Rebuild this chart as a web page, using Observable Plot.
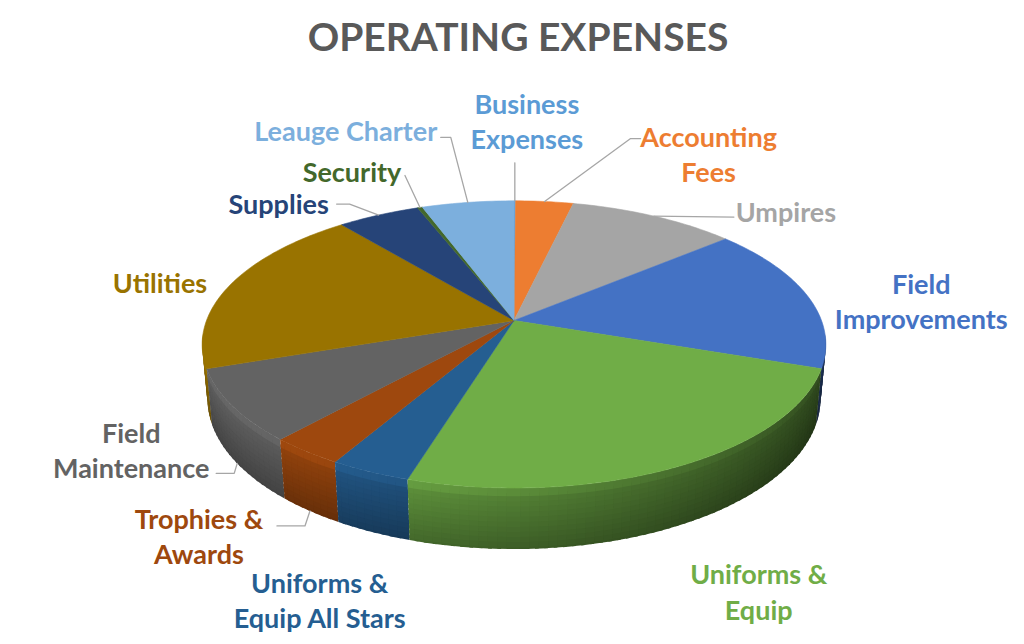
<!DOCTYPE html>
<html><head><meta charset="utf-8">
<script src="https://cdn.jsdelivr.net/npm/d3@7"></script>
<script src="https://cdn.jsdelivr.net/npm/@observablehq/plot@0.6"></script>
<style>
html,body{margin:0;padding:0;background:#fff;width:1024px;height:644px;overflow:hidden}
#title{height:70px;line-height:72px;text-align:center;font-family:Lato,"Open Sans",sans-serif;font-weight:700;font-size:39px;color:#595959;padding-left:12px;box-sizing:border-box;white-space:nowrap}
#chart svg{display:block}
</style></head><body>
<div id="title">OPERATING EXPENSES</div>
<div id="chart"></div>
<script>
// ---- data ----
const categories = ["Business Expenses","Accounting Fees","Umpires","Field Improvements","Uniforms & Equip","Uniforms & Equip All Stars","Trophies & Awards","Field Maintenance","Utilities","Supplies","Security","Leauge Charter"];
const labelText = ["Business\nExpenses","Accounting\nFees","Umpires","Field\nImprovements","Uniforms &\nEquip","Uniforms &\nEquip All Stars","Trophies &\nAwards","Field\nMaintenance","Utilities","Supplies","Security","Leauge Charter"];
const values = [0.1, 3.5, 10.2, 16.5, 24.4, 3.6, 3.3, 8.1, 19.4, 5.0, 0.3, 5.6];
const colors = ["#5B9BD5","#ED7D31","#A5A5A5","#4472C4","#70AD47","#255E91","#9E480E","#636363","#997300","#264478","#43682B","#7CAFDD"];

// ---- layout (label / leader offsets from the slice anchor, px) ----
const labelOffset = [[12,-80.5],[164,-48],[132,-5],[114,4.5],[84,64],[-53,67.5],[-111,24.5],[-106,-14.5],[-71,-2],[-100,-12],[-68,-37],[-122,-73]];
const leaderEnd = [[0,-38,0],[86,-63,10],[80,1,0],null,null,null,[-5,15,-28],[-3,10,-18],null,[-29,-11,-13],[-15,-32,0],[-17,-65,-10]];

const TOP = 70, W = 1024, H = 644 - TOP;
const tilt = 27 * Math.PI / 180;
const P = {cx: 513.5, cy: 320 - TOP, f: 1645, D: 5.35, s: Math.sin(tilt), c: Math.cos(tilt), h: 0.2};
function proj(deg, r, Y) {
  const t = deg * Math.PI / 180;
  const X = r * Math.sin(t), Z = r * Math.cos(t);
  const yc = Y * P.c + Z * P.s, zc = P.D + Z * P.c - Y * P.s;
  return [P.cx + P.f * X / zc, P.cy - P.f * yc / zc];
}
const total = d3.sum(values);
let cum = 0;
const slices = values.map((v, i) => {
  const a0 = cum / total * 360; cum += v; const a1 = cum / total * 360;
  return {i, a0, a1, mid: (a0 + a1) / 2, color: colors[i]};
});
function shade(col, k) {
  const c = d3.rgb(col);
  return d3.rgb(Math.min(255, c.r * k), Math.min(255, c.g * k), Math.min(255, c.b * k)).formatHex();
}

// top faces
const topPts = [];
for (const s of slices) {
  const [x0, y0] = proj(0, 0, 0);
  topPts.push({k: "t" + s.i, x: x0, y: y0, color: s.color});
  const n = Math.max(2, Math.ceil((s.a1 - s.a0) / 1));
  for (let j = 0; j <= n; j++) {
    const [x, y] = proj(s.a0 + (s.a1 - s.a0) * j / n, 1, 0);
    topPts.push({k: "t" + s.i, x, y, color: s.color});
  }
}
// walls (segments overlap slightly so no seams show)
const bands = 12;
const wallSegs = [];
for (const s of slices) {
  const n = Math.max(1, Math.ceil((s.a1 - s.a0) / 1.5));
  for (let j = 0; j < n; j++) {
    const t0 = s.a0 + (s.a1 - s.a0) * j / n, t1 = s.a0 + (s.a1 - s.a0) * (j + 1) / n;
    const tm = (t0 + t1) / 2;
    if (Math.cos(tm * Math.PI / 180) > -0.1) continue;
    const te = j < n - 1 ? t1 + 0.6 : t1;
    const base = 0.36 + 0.56 * Math.pow((1 + Math.cos((tm - 240) * Math.PI / 180)) / 2, 1.5);
    for (let b = 0; b < bands; b++) {
      const y0 = b / bands, y1 = Math.min(1, (b + 1.6) / bands), ym = (b + 0.5) / bands;
      const mult = ym < 0.1 ? 1.12 : 1.05 - 0.32 * ym;
      const col = shade(s.color, base * mult);
      wallSegs.push({k: `w${s.i}_${j}_${b}`, order: Math.cos(tm * Math.PI / 180), b, pts: [
        proj(t0, 1, -P.h * y0), proj(te, 1, -P.h * y0), proj(te, 1, -P.h * y1), proj(t0, 1, -P.h * y1)], color: col});
    }
  }
}
wallSegs.sort((a, b) => (b.order - a.order) || (b.b - a.b));
const wallPts = wallSegs.flatMap(w => w.pts.map(([x, y]) => ({k: w.k, x, y, color: w.color})));

// shadow
const shadowPts = d3.range(0, 361, 3).map(a => { const [x, y] = proj(a, 1.0, -P.h); return {x, y: y + 6}; });
// rim highlight
const rimPts = d3.range(100, 261, 2).map(a => { const [x, y] = proj(a, 0.99, 0); return {x, y: y + 1.5}; });

// anchors, labels, leaders
function anchor(s) {
  const front = Math.cos(s.mid * Math.PI / 180) < -0.21;
  return proj(s.mid, 1, front ? -P.h : 0);
}
const labels = slices.map(s => {
  const [ax, ay] = anchor(s);
  return {x: ax + labelOffset[s.i][0], y: ay + labelOffset[s.i][1], text: labelText[s.i], color: s.color};
});
const leaderPts = [];
slices.forEach(s => {
  const L = leaderEnd[s.i]; if (!L) return;
  const [ax, ay] = anchor(s);
  leaderPts.push({k: s.i, x: ax, y: ay});
  leaderPts.push({k: s.i, x: ax + L[0], y: ay + L[1]});
  if (L[2]) leaderPts.push({k: s.i, x: ax + L[0] + L[2], y: ay + L[1]});
});

const chart = Plot.plot({
  width: W, height: H, margin: 0,
  x: {type: "identity", axis: null}, y: {type: "identity", axis: null},
  color: {type: "identity"},
  marks: [
    Plot.line(shadowPts, {x: "x", y: "y", fill: "#000", fillOpacity: 0.35, stroke: "none", curve: "linear-closed", ariaLabel: "shadow"}),
    Plot.line(wallPts, {x: "x", y: "y", z: "k", fill: "color", stroke: "none", curve: "linear-closed"}),
    Plot.line(topPts, {x: "x", y: "y", z: "k", fill: "color", stroke: "color", strokeWidth: 0.6, curve: "linear-closed"}),
    Plot.line(rimPts, {x: "x", y: "y", stroke: "#fff", strokeOpacity: 0.28, strokeWidth: 3, ariaLabel: "rim"}),
    Plot.line(leaderPts, {x: "x", y: "y", z: "k", stroke: "#a6a6a6", strokeWidth: 1.3}),
    Plot.text(labels, {x: "x", y: "y", text: "text", fill: "color", fontSize: 27, fontWeight: "bold", fontFamily: "Lato, 'Open Sans', sans-serif", lineHeight: 1.3, textAnchor: "middle"})
  ]
});
document.getElementById("chart").appendChild(chart);
const svg = d3.select(chart.tagName === "svg" ? chart : chart.querySelector("svg"));
const defs = svg.insert("defs", ":first-child");
const f1 = defs.append("filter").attr("id", "blur6").attr("x", "-20%").attr("y", "-20%").attr("width", "140%").attr("height", "140%");
f1.append("feGaussianBlur").attr("stdDeviation", 7);
const f2 = defs.append("filter").attr("id", "blur2");
f2.append("feGaussianBlur").attr("stdDeviation", 1.5);
svg.select('g[aria-label="shadow"]').attr("filter", "url(#blur6)");
svg.select('g[aria-label="rim"]').attr("filter", "url(#blur2)");
</script>
</body></html>
